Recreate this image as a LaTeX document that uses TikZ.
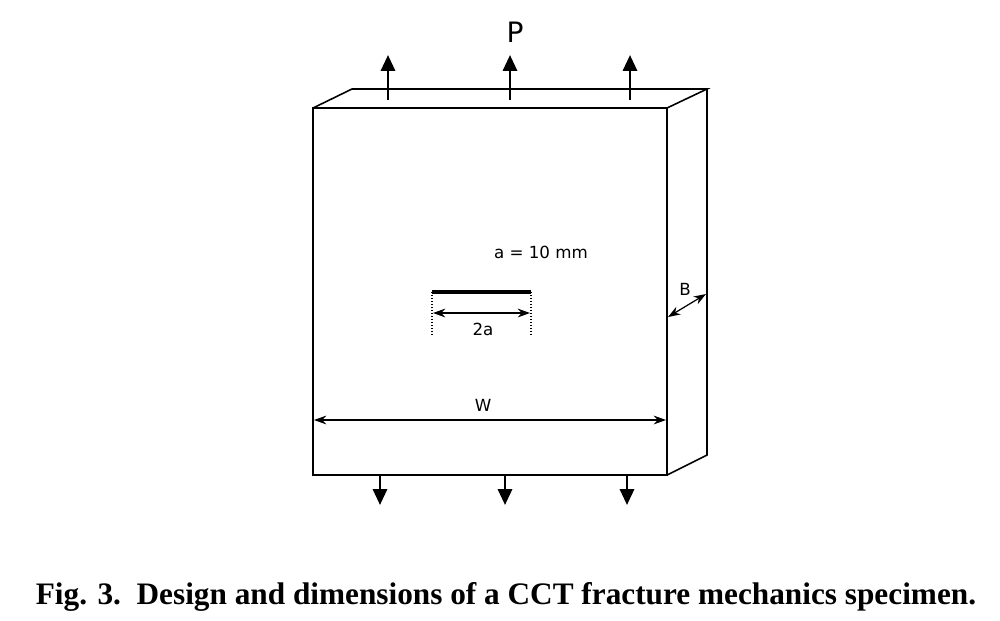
\documentclass[tikz,border=0pt]{standalone}
\usepackage{fontspec}
\setmainfont{Liberation Serif}
\newfontfamily\labfont{DejaVu Sans}
\usetikzlibrary{arrows.meta}
\begin{document}
\begin{tikzpicture}[x=0.02cm,y=-0.02cm,
  edge/.style={line width=0.9pt},
  load/.style={line width=1.5pt,-{Triangle[length=9pt,width=8pt]}},
  dim/.style={line width=0.7pt,{Stealth[length=7pt,width=5pt]}-{Stealth[length=7pt,width=5pt]}},
  lab/.style={font=\labfont\fontsize{9.5}{11}\selectfont}]
\useasboundingbox (0,0) rectangle (1000,620);
% specimen
\coordinate (A) at (313,108); \coordinate (Bc) at (667,108);
\coordinate (C) at (667,475); \coordinate (D) at (313,475);
\coordinate (E) at (352,89); \coordinate (F) at (707,89); \coordinate (G) at (707,455);
\draw[edge] (A) -- (Bc) -- (C) -- (D) -- cycle;
\draw[edge] (A) -- (E) -- (F) -- (Bc);
\draw[edge] (F) -- (G) -- (C);
% loads
\foreach \x/\n in {388/t1,510/t2,630/t3}{
  \coordinate (\n s) at (\x,100); \coordinate (\n e) at (\x,55);
  \draw[load] (\n s) -- (\n e);}
\foreach \x/\n in {380/b1,505/b2,627/b3}{
  \coordinate (\n s) at (\x,475); \coordinate (\n e) at (\x,505);
  \draw[load] (\n s) -- (\n e);}
\node[font=\labfont\fontsize{16}{19}\selectfont] (P) at (515,32) {P};
% crack
\coordinate (k1) at (432,292); \coordinate (k2) at (531,292);
\draw[line width=2pt] (k1) -- (k2);
\coordinate (k1b) at (432,335); \coordinate (k2b) at (531,335);
\draw[densely dotted,line width=0.7pt] (k1) -- (k1b);
\draw[densely dotted,line width=0.7pt] (k2) -- (k2b);
\coordinate (d1) at (433,313); \coordinate (d2) at (530,313);
\draw[dim] (d1) -- (d2);
\node[lab] (twoa) at (483,329) {2a};
\node[lab] (aval) at (541,252) {a = 10 mm};
% W
\coordinate (w1) at (314,420); \coordinate (w2) at (666,420);
\draw[dim] (w1) -- (w2);
\node[lab] (W) at (483,405) {W};
% B
\coordinate (bb1) at (668,317); \coordinate (bb2) at (706,294);
\draw[dim] (bb1) -- (bb2);
\node[lab] (Blab) at (685,289) {B};
% caption
\node[font=\bfseries\fontsize{17.8}{21}\selectfont] (cap) at (506,597)
  {Fig. 3.\ \ Design and dimensions of a CCT fracture mechanics specimen.};
\end{tikzpicture}
\end{document}
